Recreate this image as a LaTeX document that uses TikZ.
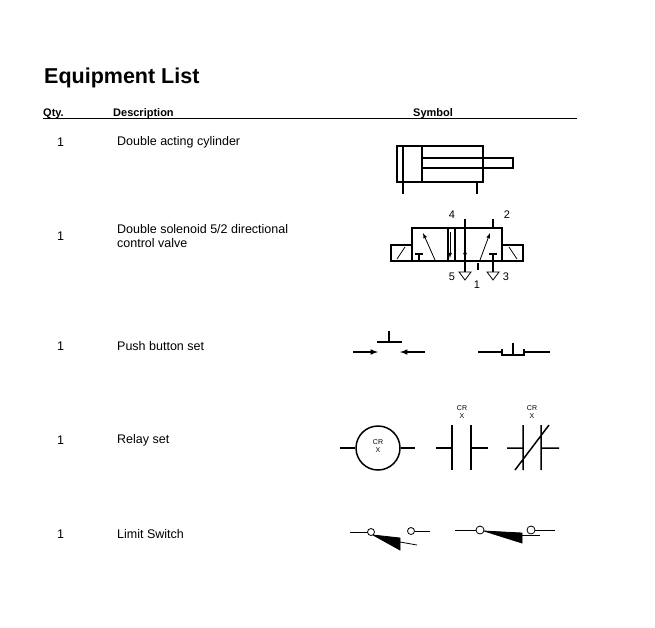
\documentclass[tikz,border=0pt]{standalone}
\usepackage{fontspec}
\setmainfont{Liberation Sans}
\begin{document}
\begin{tikzpicture}[x=1pt,y=-1pt,
  txt/.style={anchor=west,inner sep=0pt,font=\fontsize{12.5}{14}\selectfont,align=left},
  hdr/.style={anchor=base west,inner sep=0pt,font=\bfseries\fontsize{11}{12}\selectfont},
  sym/.style={line width=1.5pt},
  thin/.style={line width=0.8pt},
  lbl/.style={inner sep=0pt,font=\fontsize{11}{12}\selectfont},
  small/.style={inner sep=0pt,font=\fontsize{7}{8}\selectfont}]
\useasboundingbox (0,0) rectangle (655,627);
\node[anchor=base west,inner sep=0pt,font=\bfseries\fontsize{21.5}{24}\selectfont] (title) at (44,83) {Equipment List};
\node[hdr] (hq) at (43,116) {Qty.};
\node[hdr] (hd) at (113,116) {Description};
\node[hdr] (hs) at (413,116) {Symbol};
\draw[line width=0.8pt] (43,118) -- (577,118);
\foreach \y/\t [count=\i] in {142/{Double acting cylinder},236/{Double solenoid 5/2 directional\\control valve},346/{Push button set},440/{Relay set},534/{Limit Switch}}{
  \node[txt] (q\i) at (57,\y) {1};
  \node[txt] (d\i) at (117,\y) {\t};
}
% cylinder
\draw[sym] (397,146) rectangle (483,182);
\draw[sym] (403,146) -- (403,182) (422,146) -- (422,182);
\draw[sym] (422,158) -- (513,158) -- (513,168) -- (422,168);
\draw[sym] (403,182) -- (403,194) (477,182) -- (477,194);
% valve
\draw[sym] (412,228) rectangle (502,261);
\draw[sym] (391,245) rectangle (412,261) (502,245) rectangle (523,261);
\draw[thin] (397,259) -- (405,247) (517,259) -- (509,247);
\draw[sym] (448,228) -- (448,261) (455,228) -- (455,261);
\draw[thin,-latex] (435,260) -- (423,233);
\draw[thin,-latex] (480,260) -- (490,233);
\draw[sym] (415,254) -- (423,254) (419,254) -- (419,261);
\draw[sym] (489,254) -- (497,254) (493,254) -- (493,261);
\draw[thin,-latex] (450,232) -- (450,258);
\draw[sym] (465,219) -- (465,261);
\draw[thin,-latex] (465,245) -- (465,258);
\draw[sym] (493,219) -- (493,228);
\draw[sym] (465,261) -- (465,272) (493,261) -- (493,272) (478,263) -- (478,270);
\draw[thin] (459,272) -- (471,272) -- (465,280) -- cycle;
\draw[thin] (487,272) -- (499,272) -- (493,280) -- cycle;
\node[lbl] (p4) at (452,215) {4};
\node[lbl] (p2) at (507,215) {2};
\node[lbl] (p5) at (452,277) {5};
\node[lbl] (p1) at (477,285) {1};
\node[lbl] (p3) at (506,277) {3};
% push buttons
\draw[sym,-latex] (353,352) -- (378,352);
\draw[sym,-latex] (425,352) -- (400,352);
\draw[sym] (377,342) -- (402,342) (389,342) -- (389,331);
\draw[sym] (478,352) -- (502,352) (502,349) -- (502,355) -- (524,355) -- (524,349) (524,352) -- (550,352) (513,343) -- (513,355);
% relay
\node[draw,circle,line width=1.5pt,minimum size=44pt,inner sep=0pt] (coil) at (378,448) {};
\draw[sym] (340,448) -- (coil.west) (coil.east) -- (415,448);
\node[small,align=center] (cr1) at (378,446) {CR\\X};
\draw[sym] (436,448) -- (452,448) (452,425) -- (452,470) (471,425) -- (471,470) (471,448) -- (488,448);
\node[small,align=center] (cr2) at (462,412) {CR\\X};
\draw[sym] (507,448) -- (523,448) (523,425) -- (523,470) (541,425) -- (541,470) (541,448) -- (559,448) (515,470) -- (549,425);
\node[small,align=center] (cr3) at (532,412) {CR\\X};
% limit switches
\draw[thin] (350,532) -- (367.5,532);
\draw[thin,fill=black] (373,535) -- (400,550) -- (400,538) -- cycle;
\draw[thin,fill=white] (371,532) circle[radius=3.5];
\draw[thin] (400,542) -- (417,545);
\draw[thin,fill=white] (411,531) circle[radius=3.5];
\draw[thin] (414.5,531) -- (430,531);
\draw[thin] (455,530) -- (476,530);
\draw[thin,fill=black] (484,531) -- (522,543) -- (522,533) -- cycle;
\draw[thin,fill=white] (480,530) circle[radius=4];
\draw[thin] (522,535) -- (540,535);
\draw[thin,fill=white] (531,530) circle[radius=4];
\draw[thin] (535,530) -- (555,530);
\end{tikzpicture}
\end{document}
